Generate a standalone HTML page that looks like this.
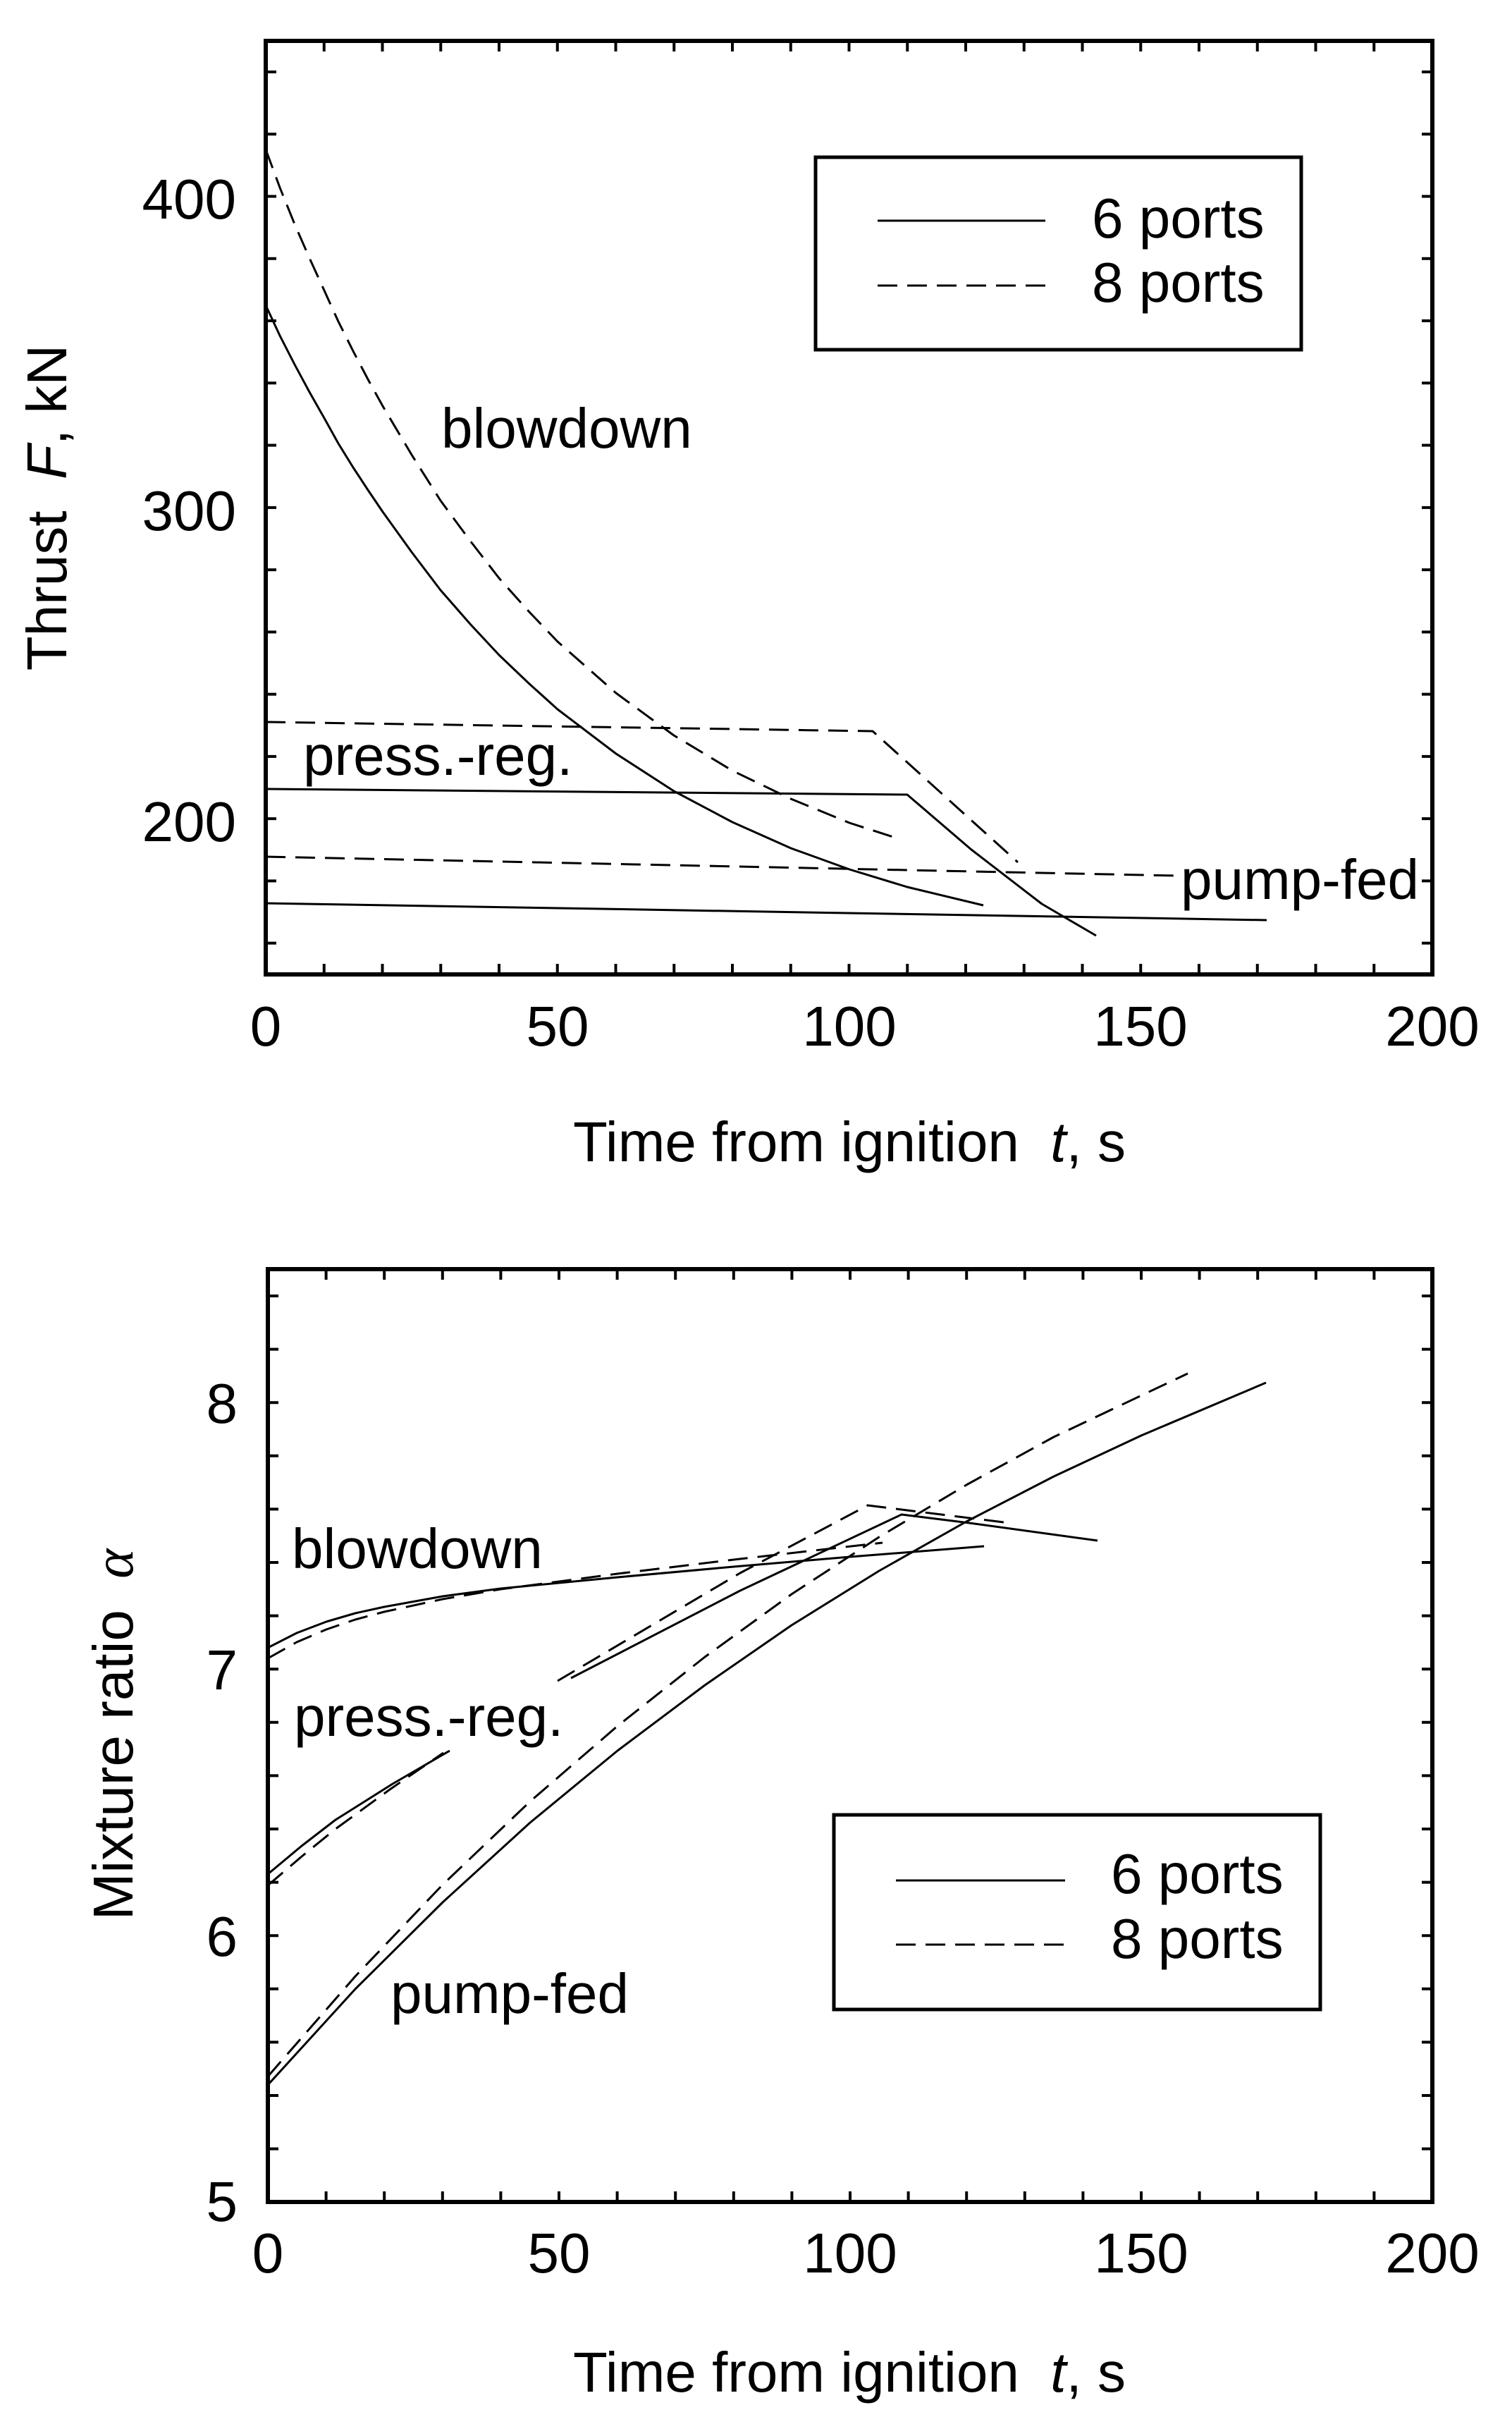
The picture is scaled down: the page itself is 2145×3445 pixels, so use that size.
<!DOCTYPE html>
<html><head><meta charset="utf-8"><style>
html,body{margin:0;padding:0;background:#fff;}
svg{display:block;}
text{font-family:"Liberation Sans",Arial,sans-serif;font-size:80px;fill:#000;}
</style></head><body>
<svg width="2145" height="3445" viewBox="0 0 2145 3445" xmlns="http://www.w3.org/2000/svg">
<rect width="2145" height="3445" fill="#fff"/>

<!-- ===== TOP PLOT ===== -->
<rect x="377" y="58" width="1655" height="1324" fill="none" stroke="#000" stroke-width="6"/>
<g stroke="#000" stroke-width="4" fill="none">
<path d="M459.75,1379 v-12 m82.75,12 v-12 m82.75,12 v-12 m82.75,12 v-12 m82.75,12 v-12 m82.75,12 v-12 m82.75,12 v-12 m82.75,12 v-12 m82.75,12 v-12 m82.75,12 v-12 m82.75,12 v-12 m82.75,12 v-12 m82.75,12 v-12 m82.75,12 v-12 m82.75,12 v-12 m82.75,12 v-12 m82.75,12 v-12 m82.75,12 v-12 m82.75,12 v-12"/>
<path d="M459.75,61 v12 m82.75,-12 v12 m82.75,-12 v12 m82.75,-12 v12 m82.75,-12 v12 m82.75,-12 v12 m82.75,-12 v12 m82.75,-12 v12 m82.75,-12 v12 m82.75,-12 v12 m82.75,-12 v12 m82.75,-12 v12 m82.75,-12 v12 m82.75,-12 v12 m82.75,-12 v12 m82.75,-12 v12 m82.75,-12 v12 m82.75,-12 v12 m82.75,-12 v12"/>
<path d="M380,102 h12 m-12,88.26 h12 m-12,88.26 h12 m-12,88.26 h12 m-12,88.26 h12 m-12,88.26 h12 m-12,88.26 h12 m-12,88.26 h12 m-12,88.26 h12 m-12,88.26 h12 m-12,88.26 h12 m-12,88.26 h12 m-12,88.26 h12 m-12,88.26 h12 m-12,88.26 h12"/>
<path d="M2029,102 h-12 m12,88.26 h-12 m12,88.26 h-12 m12,88.26 h-12 m12,88.26 h-12 m12,88.26 h-12 m12,88.26 h-12 m12,88.26 h-12 m12,88.26 h-12 m12,88.26 h-12 m12,88.26 h-12 m12,88.26 h-12 m12,88.26 h-12 m12,88.26 h-12 m12,88.26 h-12"/>
</g>
<g stroke="#000" stroke-width="3" fill="none" stroke-linejoin="round">
<polyline points="377,433 397,476 418,517 439,556 460,593 480,629 501,663 522,695 543,726 584,783 625,837 667,885 708,929 750,969 791,1006 874,1069 956,1122 1039,1166 1122,1203 1205,1233 1287,1258 1395,1284"/>
<polyline points="377,1119 1287,1127 1378,1205 1478,1282 1555,1327"/>
<polyline points="377,1281 1797,1305"/>
</g>
<g stroke="#000" stroke-width="3" fill="none" stroke-dasharray="28 14" stroke-linejoin="round">
<polyline points="377,212 397,266 418,318 439,366 460,412 480,456 501,498 522,538 543,576 584,645 625,710 667,767 708,820 750,867 791,910 874,983 956,1043 1039,1093 1122,1133 1205,1167 1267,1187"/>
<polyline points="377,1024 1238,1037 1444,1223"/>
<polyline points="377,1215 1668,1242"/>
</g>
<text x="335" y="310" text-anchor="end">400</text>
<text x="335" y="752" text-anchor="end">300</text>
<text x="335" y="1193" text-anchor="end">200</text>
<text x="377" y="1483" text-anchor="middle">0</text>
<text x="791" y="1483" text-anchor="middle">50</text>
<text x="1205" y="1483" text-anchor="middle">100</text>
<text x="1618" y="1483" text-anchor="middle">150</text>
<text x="2032" y="1483" text-anchor="middle">200</text>
<text x="1205" y="1647" text-anchor="middle">Time from ignition&#160;&#160;<tspan font-style="italic">t</tspan>, s</text>
<text transform="translate(94,720) rotate(-90)" text-anchor="middle">Thrust&#160;&#160;<tspan font-style="italic">F</tspan>, kN</text>
<text x="626" y="635">blowdown</text>
<text x="430" y="1099">press.-reg.</text>
<text x="1675" y="1275">pump-fed</text>
<rect x="1157" y="223" width="689" height="273" fill="#fff" stroke="#000" stroke-width="5"/>
<line x1="1245" y1="313" x2="1483" y2="313" stroke="#000" stroke-width="3"/>
<line x1="1245" y1="405" x2="1483" y2="405" stroke="#000" stroke-width="3" stroke-dasharray="28 14"/>
<text x="1549" y="337">6 ports</text>
<text x="1549" y="428">8 ports</text>

<!-- ===== BOTTOM PLOT ===== -->
<rect x="380" y="1800" width="1652" height="1323" fill="none" stroke="#000" stroke-width="6"/>
<g stroke="#000" stroke-width="4" fill="none">
<path d="M462.6,3120 v-12 m82.6,12 v-12 m82.6,12 v-12 m82.6,12 v-12 m82.6,12 v-12 m82.6,12 v-12 m82.6,12 v-12 m82.6,12 v-12 m82.6,12 v-12 m82.6,12 v-12 m82.6,12 v-12 m82.6,12 v-12 m82.6,12 v-12 m82.6,12 v-12 m82.6,12 v-12 m82.6,12 v-12 m82.6,12 v-12 m82.6,12 v-12 m82.6,12 v-12"/>
<path d="M462.6,1803 v12 m82.6,-12 v12 m82.6,-12 v12 m82.6,-12 v12 m82.6,-12 v12 m82.6,-12 v12 m82.6,-12 v12 m82.6,-12 v12 m82.6,-12 v12 m82.6,-12 v12 m82.6,-12 v12 m82.6,-12 v12 m82.6,-12 v12 m82.6,-12 v12 m82.6,-12 v12 m82.6,-12 v12 m82.6,-12 v12 m82.6,-12 v12 m82.6,-12 v12"/>
<path d="M383,1838 h12 m-12,75.6 h12 m-12,75.6 h12 m-12,75.6 h12 m-12,75.6 h12 m-12,75.6 h12 m-12,75.6 h12 m-12,75.6 h12 m-12,75.6 h12 m-12,75.6 h12 m-12,75.6 h12 m-12,75.6 h12 m-12,75.6 h12 m-12,75.6 h12 m-12,75.6 h12 m-12,75.6 h12 m-12,75.6 h12"/>
<path d="M2029,1838 h-12 m12,75.6 h-12 m12,75.6 h-12 m12,75.6 h-12 m12,75.6 h-12 m12,75.6 h-12 m12,75.6 h-12 m12,75.6 h-12 m12,75.6 h-12 m12,75.6 h-12 m12,75.6 h-12 m12,75.6 h-12 m12,75.6 h-12 m12,75.6 h-12 m12,75.6 h-12 m12,75.6 h-12 m12,75.6 h-12"/>
</g>
<g stroke="#000" stroke-width="3" fill="none" stroke-linejoin="round">
<polyline points="380,2957 504,2821 628,2698 752,2585 876,2483 1000,2390 1123,2305 1247,2228 1371,2158 1495,2094 1619,2036 1796,1961"/>
<polyline points="380,2658 428,2618 476,2581 557,2530 638,2483"/>
<polyline points="810,2380 1050,2256 1279,2148 1375,2160 1557,2185"/>
<polyline points="380,2337 421,2316 463,2300 504,2288 545,2279 628,2264 710,2253 876,2237 1041,2222 1206,2208 1396,2193"/>
</g>
<g stroke="#000" stroke-width="3" fill="none" stroke-dasharray="28 14" stroke-linejoin="round">
<polyline points="380,2945 504,2803 628,2673 752,2555 876,2448 1000,2350 1123,2261 1247,2180 1371,2106 1495,2038 1685,1948"/>
<polyline points="380,2674 428,2633 476,2594 553,2538 629,2486"/>
<polyline points="791,2384 1050,2231 1231,2135 1279,2141 1432,2160"/>
<polyline points="380,2352 421,2329 463,2311 504,2297 545,2286 628,2268 710,2254 876,2232 1041,2212 1252,2188"/>
</g>
<text x="337" y="3150" text-anchor="end">5</text>
<text x="337" y="2774" text-anchor="end">6</text>
<text x="337" y="2396" text-anchor="end">7</text>
<text x="337" y="2018" text-anchor="end">8</text>
<text x="380" y="3223" text-anchor="middle">0</text>
<text x="793" y="3223" text-anchor="middle">50</text>
<text x="1206" y="3223" text-anchor="middle">100</text>
<text x="1619" y="3223" text-anchor="middle">150</text>
<text x="2032" y="3223" text-anchor="middle">200</text>
<text x="1205" y="3392" text-anchor="middle">Time from ignition&#160;&#160;<tspan font-style="italic">t</tspan>, s</text>
<text transform="translate(188,2460) rotate(-90)" text-anchor="middle">Mixture ratio&#160;&#160;<tspan font-family="Liberation Serif, serif" font-style="italic">α</tspan></text>
<text x="414" y="2224">blowdown</text>
<text x="417" y="2462">press.-reg.</text>
<text x="554" y="2855">pump-fed</text>
<rect x="1183" y="2574" width="690" height="276" fill="#fff" stroke="#000" stroke-width="5"/>
<line x1="1271" y1="2667" x2="1511" y2="2667" stroke="#000" stroke-width="3"/>
<line x1="1271" y1="2758" x2="1511" y2="2758" stroke="#000" stroke-width="3" stroke-dasharray="28 14"/>
<text x="1576" y="2685">6 ports</text>
<text x="1576" y="2777">8 ports</text>
</svg>
</body></html>
